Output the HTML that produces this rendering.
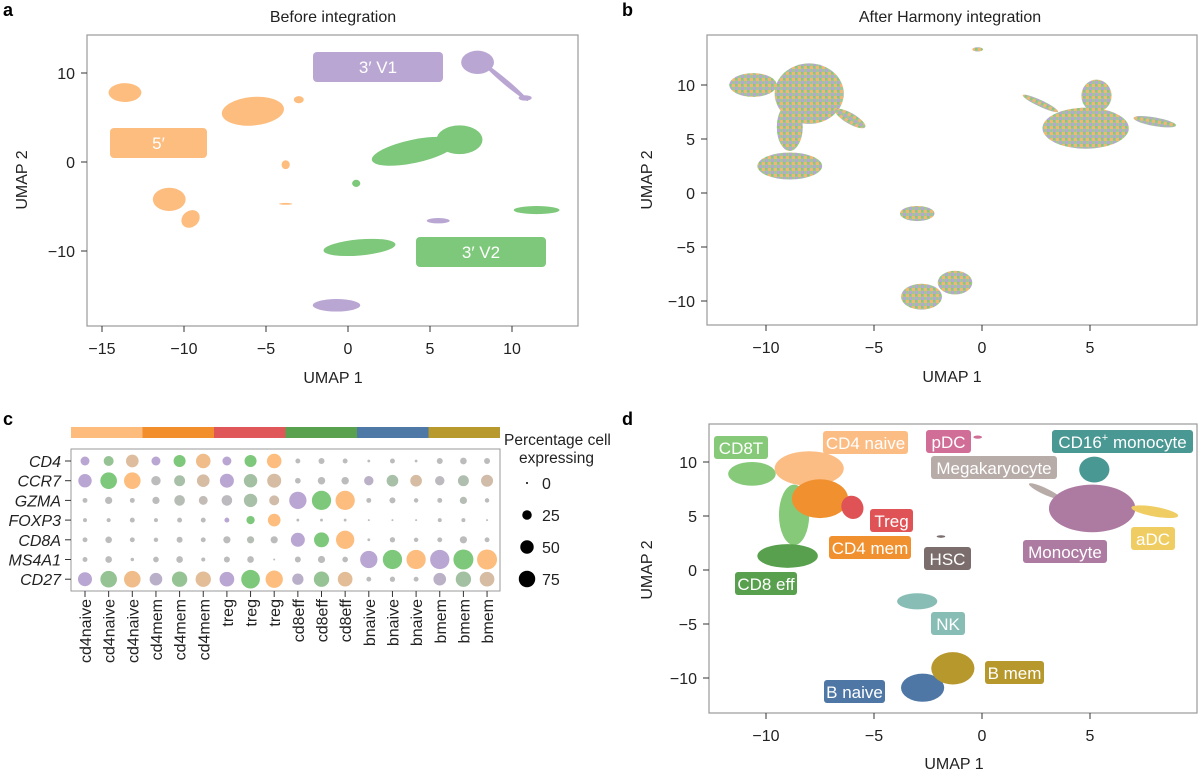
<!DOCTYPE html>
<html><head><meta charset="utf-8"><style>
body{margin:0;background:#fff;font-family:"Liberation Sans",sans-serif}
svg text{font-family:"Liberation Sans",sans-serif}
</style></head><body>
<svg id="fig" width="1200" height="771" viewBox="0 0 1200 771" xmlns="http://www.w3.org/2000/svg">
<defs>
<pattern id="mix" width="6" height="6" patternUnits="userSpaceOnUse">
<rect width="6" height="6" fill="#9fc88e"/><rect x="0" y="0" width="3" height="3" fill="#f5b37a"/><rect x="3" y="3" width="3" height="3" fill="#b7a5d3"/><rect x="3" y="0" width="2" height="2" fill="#86c97c"/>
</pattern>
</defs>
<g id="gA"></g><g id="gB"></g><g id="gC"></g><g id="gD"></g>
</svg>
<script>
// ---------- data ----------
const chemA = ["5′","3′ V1","3′ V2"];
const clustersA = [ // [chem, x, y, rx, ry, rot]
 [0,-13.6,7.8,1.0,1.05,0],[0,-5.8,5.7,1.9,1.6,-5],[0,-3.0,7.0,0.3,0.4,0],[0,-10.9,-4.2,1.0,1.3,0],[0,-9.6,-6.4,0.6,0.9,-40],[0,-3.8,-0.3,0.25,0.5,0],[0,-3.8,-4.7,0.4,0.1,0],
 [1,7.9,11.2,1.0,1.3,0],[1,9.6,9.0,1.8,0.3,40],[1,10.8,7.2,0.4,0.3,0],[1,-0.7,-16.1,1.45,0.7,0],[1,5.5,-6.6,0.7,0.3,0],
 [2,4.0,1.2,2.6,1.3,-12],[2,6.8,2.5,1.4,1.6,0],[2,0.7,-9.6,2.2,0.9,-5],[2,11.5,-5.4,1.4,0.45,0],[2,0.5,-2.4,0.25,0.4,0]];
const clustersB = [[-8.0,9.2,1.6,2.8,0],[-10.6,10.0,1.1,1.1,0],[-6.1,6.9,0.8,0.5,30],[-8.9,6.1,0.6,2.2,0],[-8.9,2.5,1.5,1.25,0],
 [-3.0,-1.9,0.8,0.7,0],[-2.8,-9.6,0.95,1.2,0],[-1.25,-8.3,0.8,1.1,0],
 [4.8,6.0,2.0,1.9,0],[5.3,9.0,0.7,1.5,0],[8.0,6.6,1.0,0.4,10],[2.7,8.3,0.9,0.3,25],[-0.2,13.3,0.25,0.2,0]];
const cellTypes = ["CD8T","CD4 naive","CD4 mem","Treg","CD8 eff","pDC","HSC","Megakaryocyte","CD16+ monocyte","Monocyte","aDC","NK","B naive","B mem"];
const typeColors = ["#86ca79","#fcbd84","#f0902f","#df5356","#58a04d","#d06e98","#7a6d6c","#b8aca8","#4a9893","#ad7aa1","#f0cd62","#88bdb6","#4e77a6","#b7982c"];
const clustersD = [ // [type, x, y, rx, ry, rot]
 [0,-10.65,8.9,1.1,1.1,0],[0,-8.7,5.1,0.7,2.8,0],[1,-8.0,9.4,1.6,1.6,0],[2,-7.5,6.6,1.3,1.8,0],[3,-6.0,5.8,0.5,1.1,-30],[4,-9.0,1.3,1.4,1.1,0],
 [5,-0.2,12.3,0.2,0.15,0],[6,-1.9,3.1,0.2,0.12,0],[7,2.9,7.3,0.8,0.3,25],[8,5.2,9.3,0.7,1.2,0],[9,5.1,5.7,2.0,2.2,0],[10,8.0,5.4,1.1,0.45,10],
 [11,-3.0,-2.9,0.93,0.75,0],[12,-2.75,-10.9,1.0,1.3,0],[13,-1.35,-9.1,1.0,1.5,0]];
const labelsD = [ // [type, left px, top px, width]
 [0,714,436,54],[1,823,431,85],[5,926,430,45],[8,1052,430,141],[7,931,456,126],[3,870,509,43],[2,829,536,82],[6,924,547,47],[9,1023,540,84],[10,1131,527,44],[4,735,572,62],[11,931,612,34],[13,985,661,59],[12,824,680,61]];
const genes = ["CD4","CCR7","GZMA","FOXP3","CD8A","MS4A1","CD27"];
const groups = ["cd4naive","cd4naive","cd4naive","cd4mem","cd4mem","cd4mem","treg","treg","treg","cd8eff","cd8eff","cd8eff","bnaive","bnaive","bnaive","bmem","bmem","bmem"];
const pct = [
 [20,25,40,20,36,53,20,36,53,6,9,6,2,6,2,9,11,9],
 [45,69,69,22,30,40,49,45,49,8,14,14,22,34,34,22,30,36],
 [6,13,6,13,28,20,28,45,25,75,93,93,6,9,5,6,13,5],
 [4,4,6,4,6,6,6,17,40,2,2,2,1,1,1,4,4,1],
 [6,11,6,5,9,6,13,13,13,49,56,84,2,7,5,6,13,6],
 [6,11,3,8,11,4,9,11,1,9,13,8,75,93,93,93,100,100],
 [49,69,69,40,59,59,54,87,75,32,59,54,6,7,6,40,59,54]];
const mix = [
 [1,.6,.5,1,1,.8,1,1,1,0,0,0,0,0,0,0,0,0],
 [1,1,1,0,.3,.4,1,.4,.4,0,0,0,.5,.3,.4,.1,.2,.3],
 [0,0,0,0,.1,.1,.1,.3,.3,1,1,1,0,0,0,0,.1,0],
 [0,0,0,0,0,0,1,1,1,0,0,0,0,0,0,0,0,0],
 [0,0,0,0,0,0,0,.1,0,1,1,1,0,0,0,0,0,0],
 [0,0,0,0,0,0,0,0,0,0,0,0,1,1,1,1,1,1],
 [1,.6,.8,.6,.6,.6,1,1,1,.6,.6,.6,0,0,0,.5,.4,.4]];
const groupColors = ["#fdbb7c","#f28e2b","#e05759","#59a14f","#4e79a7","#b7992e"];
const legendVals = [0,25,50,75];
const chemColors = ["#fdbd7e","#b9a6d2","#7dc87a"];
const ticksAx=[-15,-10,-5,0,5,10], ticksAy=[-10,0,10];
const ticksBx=[-10,-5,0,5], ticksBy=[-10,-5,0,5,10];
// ---------- helpers ----------
const NS="http://www.w3.org/2000/svg";
function mk(p,t,a,txt){const e=document.createElementNS(NS,t);for(const k in a)e.setAttribute(k,a[k]);if(txt!==undefined)e.textContent=txt;p.appendChild(e);return e;}
function lin(d0,d1,r0,r1){return v=>r0+(v-d0)*(r1-r0)/(d1-d0);}
function axes(g,box,sx,sy,tx,ty,name){
 const r=mk(g,'rect',{x:box[0],y:box[1],width:box[2]-box[0],height:box[3]-box[1],fill:'none',stroke:'#999','stroke-width':1.2});
 
 tx.forEach(v=>{const x=sx(v);mk(g,'line',{x1:x,x2:x,y1:box[3],y2:box[3]+6,stroke:'#333'});
  const t=mk(g,'text',{x:x,y:box[3]+28,'text-anchor':'middle','font-size':16,fill:'#222'},v<0?'−'+(-v):''+v);
  });
 ty.forEach(v=>{const y=sy(v);mk(g,'line',{x1:box[0]-6,x2:box[0],y1:y,y2:y,stroke:'#333'});
  const t=mk(g,'text',{x:box[0]-12,y:y+6,'text-anchor':'end','font-size':16,fill:'#222'},v<0?'−'+(-v):''+v);
  });
}
function title(g,x,y,txt,name,rot){const t=mk(g,'text',{x:x,y:y,'text-anchor':'middle','font-size':16,fill:'#222',transform:rot?`rotate(-90 ${x} ${y})`:''},txt);
 return t;}
function letter(x,y,l){const t=mk(document.getElementById('fig'),'text',{x:x,y:y,'font-size':18,'font-weight':'bold',fill:'#000'},l);
 }
function blob(g,sx,sy,kx,ky,c,fill,name){const cx=sx(c[0]),cy=sy(c[1]);
 const e=mk(g,'ellipse',{cx:cx,cy:cy,rx:Math.abs(c[2]*kx),ry:Math.abs(c[3]*ky),fill:fill,transform:`rotate(${c[4]} ${cx} ${cy})`});
 return e;}
function hex2(c){return [1,3,5].map(i=>parseInt(c.substr(i,2),16));}
function blend(a,b,t){const A=hex2(a),B=hex2(b);return 'rgb('+A.map((v,i)=>Math.round(v*t+B[i]*(1-t))).join(',')+')';}
// ---------- panel a ----------
{const g=document.getElementById('gA');const box=[87,35,578,326];
 const sx=lin(0,10,348,512),sy=lin(0,10,162,73);
 axes(g,box,sx,sy,ticksAx,ticksAy,'panel-a');
 clustersA.forEach(c=>blob(g,sx,sy,16.4,8.95,c.slice(1),chemColors[c[0]],'cluster-'+chemA[c[0]]));
 [[0,110,128,97],[1,313,52,130],[2,416,237,130]].forEach(l=>{
  const r=mk(g,'rect',{x:l[1],y:l[2],width:l[3],height:30,rx:4,fill:chemColors[l[0]]});
  
  const t=mk(g,'text',{x:l[1]+l[3]/2,y:l[2]+21,'text-anchor':'middle','font-size':17,fill:'#fff'},chemA[l[0]]);
  });
 title(g,333,22,'Before integration','panel-a-title');title(g,333,383,'UMAP 1','panel-a-x-axis-title');title(g,27,180,'UMAP 2','panel-a-y-axis-title',1);
}
// ---------- panel b ----------
{const g=document.getElementById('gB');const box=[707,35,1197,325];
 const sx=lin(0,5,982,1090),sy=lin(0,10,193,85);
 axes(g,box,sx,sy,ticksBx,ticksBy,'panel-b');
 clustersB.forEach(c=>blob(g,sx,sy,21.6,10.8,c,'url(#mix)','integrated-cluster'));
 title(g,950,22,'After Harmony integration','panel-b-title');title(g,952,382,'UMAP 1','panel-b-x-axis-title');title(g,652,180,'UMAP 2','panel-b-y-axis-title',1);
}
// ---------- panel c ----------
{const g=document.getElementById('gC');const x0=85,dx=23.65,y0=461,dy=19.7;
 groupColors.forEach((c,i)=>{const r=mk(g,'rect',{x:71+i*71.5,y:427,width:71.5,height:11,fill:c});
  });
 const fr=mk(g,'rect',{x:71,y:449,width:429,height:142,fill:'none',stroke:'#999'});
 
 genes.forEach((gn,i)=>{const y=y0+i*dy;mk(g,'line',{x1:65,x2:71,y1:y,y2:y,stroke:'#333'});
  const t=mk(g,'text',{x:61,y:y+6,'text-anchor':'end','font-size':16,'font-style':'italic',fill:'#222'},gn);
  
  pct[i].forEach((p,j)=>{const gray='#bcbcbc';const col=blend(chemColors[[1,2,0][j%3]],gray,mix[i][j]);
   const d=mk(g,'circle',{cx:x0+j*dx,cy:y,r:Math.max(1,Math.sqrt(p)*1.0),fill:col});
   });});
 groups.forEach((s,j)=>{const x=x0+j*dx;mk(g,'line',{x1:x,x2:x,y1:591,y2:597,stroke:'#333'});
  const t=mk(g,'text',{x:x+6,y:599,'text-anchor':'end','font-size':16,fill:'#222',transform:`rotate(-90 ${x+6} 599)`},s);
  });
 const l1=mk(g,'text',{x:504,y:445,'font-size':15.5,fill:'#222'},'Percentage cell');
 const l2=mk(g,'text',{x:519,y:463,'font-size':15.5,fill:'#222'},'expressing');
 legendVals.forEach((v,i)=>{const y=483+i*32;const d=mk(g,'circle',{cx:527,cy:y,r:Math.max(1,Math.sqrt(v)*0.95),fill:'#000'});
  
  const t=mk(g,'text',{x:542,y:y+6,'font-size':16,fill:'#222'},''+v);});
}
// ---------- panel d ----------
{const g=document.getElementById('gD');const box=[709,424,1197,713];
 const sx=lin(0,5,982,1090),sy=lin(0,10,570,462);
 axes(g,box,sx,sy,ticksBx,ticksBy,'panel-d');
 clustersD.forEach(c=>blob(g,sx,sy,21.6,10.8,c.slice(1),typeColors[c[0]],'cluster-'+cellTypes[c[0]].replace(/[^a-zA-Z0-9]+/g,'-').toLowerCase()));
 labelsD.forEach(l=>{const r=mk(g,'rect',{x:l[1],y:l[2],width:l[3],height:23,rx:3,fill:typeColors[l[0]]});
  
  const t=mk(g,'text',{x:l[1]+l[3]/2,y:l[2]+18,'text-anchor':'middle','font-size':17,fill:'#fff'});
  const nm=cellTypes[l[0]];
  if(nm==='CD16+ monocyte'){mk(t,'tspan',{},'CD16');mk(t,'tspan',{'font-size':11,dy:-7},'+');mk(t,'tspan',{dy:7},' monocyte');}else t.textContent=nm;
  });
 title(g,954,769,'UMAP 1','panel-d-x-axis-title');title(g,652,570,'UMAP 2','panel-d-y-axis-title',1);
}
letter(3,16,'a');letter(622,16,'b');letter(3,425,'c');letter(622,425,'d');
</script>
</body></html>
